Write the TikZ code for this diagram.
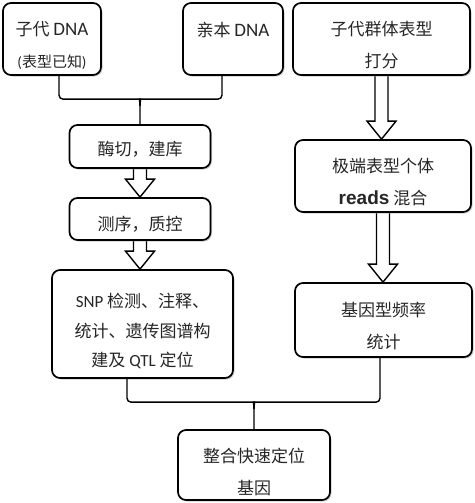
\documentclass[tikz,border=0pt]{standalone}
\usepackage{fontspec}
\setmainfont{Carlito}
\newfontfamily\cjk{Noto Sans CJK SC}
\newfontfamily\arialf{Liberation Sans}
\usetikzlibrary{shadows,calc,backgrounds}
\newcommand\zh[1]{{\cjk #1}}
\begin{document}
\begin{tikzpicture}[x=1pt,y=-1pt,
  box/.style={draw, line width=1.7pt, rounded corners=8pt, fill=white,
    drop shadow={shadow xshift=1.5pt,shadow yshift=-1.5pt,fill=black!40},
    align=center, inner sep=0pt, text=black!85, font=\fontsize{17}{32}\selectfont},
  link/.style={draw, line width=1.4pt},
  harrow/.style={draw, line width=1.4pt, fill=white, line join=miter}]
\useasboundingbox (0,0) rectangle (474,503);
\node[box, minimum width=98pt, minimum height=72pt] (A) at (52,39)
  {\mbox{}\\[-5pt]\zh{子代} {\fontsize{19}{32}\selectfont DNA}\\{\fontsize{15}{32}\selectfont(\zh{表型已知})}};
\node[box, minimum width=100pt, minimum height=72pt] (B) at (233,39)
  {\mbox{}\\[-5pt]\zh{亲本} {\fontsize{19}{32}\selectfont DNA}\\\mbox{}};
\node[box, minimum width=177pt, minimum height=72pt] (F) at (381.5,39)
  {\mbox{}\\[-5pt]\zh{子代群体表型}\\\zh{打分}};
\node[box, minimum width=141pt, minimum height=43pt] (C) at (140,146.5)
  {\mbox{}\\[-13pt]\zh{酶切，建库}};
\node[box, minimum width=141pt, minimum height=42pt] (D) at (140,219)
  {\mbox{}\\[-7pt]\zh{测序，质控}};
\node[box, minimum width=181pt, minimum height=108pt, font=\fontsize{17}{29.5}\selectfont] (E) at (142.5,324)
  {\mbox{}\\[-1pt]SNP \zh{检测、注释、}\\\zh{统计、遗传图谱构}\\\zh{建及} QTL \zh{定位}};
\node[box, minimum width=176pt, minimum height=72pt] (G) at (383,176)
  {\mbox{}\\[-5pt]\zh{极端表型个体}\\{\fontsize{19}{32}\selectfont\arialf\bfseries reads} \zh{混合}};
\node[box, minimum width=177pt, minimum height=74pt] (H) at (383.5,320)
  {\mbox{}\\[-5pt]\zh{基因型频率}\\\zh{统计}};
\node[box, minimum width=152pt, minimum height=70pt] (I) at (254,465)
  {\mbox{}\\[-4pt]\zh{整合快速定位}\\\zh{基因}};
\begin{scope}[on background layer]
\foreach \ua/\ub in {C/D, D/E, F/G, G/H}{
  \draw[harrow] let \p1=(\ua.south), \p2=(\ub.north) in
    (\x1-6.5pt,\y1) -- (\x1-6.5pt,\y2+18pt) -- (\x1-14.5pt,\y2+18pt) -- (\x1,\y2)
    -- (\x1+14.5pt,\y2+18pt) -- (\x1+6.5pt,\y2+18pt) -- (\x1+6.5pt,\y1);
}
\end{scope}
% top brace
\draw[link] ($(A.south)+(7,0)$) [rounded corners=4pt] |- ($(C.north)+(-4,-25)$)
  [sharp corners] to[out=0,in=90] ($(C.north)+(0,-18)$) -- (C.north);
\draw[link] ($(B.south)+(-11,0)$) [rounded corners=4pt] |- ($(C.north)+(4,-25)$)
  [sharp corners] to[out=180,in=90] ($(C.north)+(0,-18)$);
% bottom brace
\draw[link] ($(E.south)+(-15.5,0)$) [rounded corners=4pt] |- ($(I.north)+(-4,-27)$)
  [sharp corners] to[out=0,in=90] ($(I.north)+(0,-20)$) -- (I.north);
\draw[link] ($(H.south)+(-3.5,0)$) [rounded corners=4pt] |- ($(I.north)+(4,-27)$)
  [sharp corners] to[out=180,in=90] ($(I.north)+(0,-20)$);
\end{tikzpicture}
\end{document}
